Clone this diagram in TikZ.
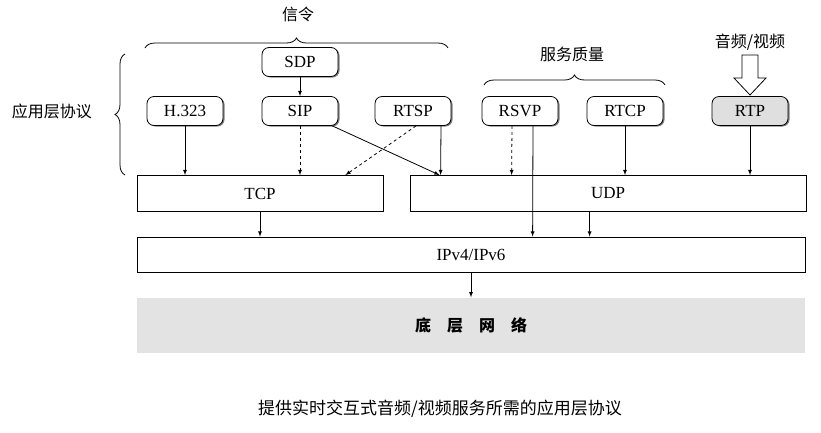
\documentclass[tikz,border=0pt]{standalone}
\usepackage{fontspec}
\setmainfont{Liberation Serif}
\newfontfamily\cjk{Noto Sans CJK SC}
\usetikzlibrary{calc,decorations.pathreplacing,shadows}
\tikzset{
  proto/.style={rectangle,rounded corners=7pt,draw,thick,minimum width=76pt,minimum height=29pt,font=\fontsize{17}{17}\selectfont,fill=white,drop shadow={shadow xshift=1.5pt,shadow yshift=-1pt,fill=black}},
  layer/.style={rectangle,draw,thick,minimum height=36pt,font=\fontsize{17}{17}\selectfont},
  conn/.style={-latex,thick},
  dconn/.style={-latex,thick,dashed},
  brc/.style={decorate,decoration={brace,amplitude=10pt},thick},
  lbl/.style={font=\cjk\fontsize{16}{16}\selectfont}
}
\begin{document}
\begin{tikzpicture}[x=1pt,y=-1pt]
\useasboundingbox (0,0) rectangle (821,432);
% protocols
\node[proto] (sdp) at (300,62) {SDP};
\node[proto] (h323) at (185,111) {H.323};
\node[proto] (sip) at (300,111) {SIP};
\node[proto] (rtsp) at (413,111) {RTSP};
\node[proto] (rsvp) at (520,111) {RSVP};
\node[proto] (rtcp) at (625,111) {RTCP};
\node[proto,fill=gray!25] (rtp) at (750,111) {RTP};
% layers
\node[layer,minimum width=246pt] (tcp) at (260,193.5) {TCP};
\node[layer,minimum width=396pt] (udp) at (608,193.5) {UDP};
\node[layer,minimum width=668pt,minimum height=35pt] (ip) at (471,254.5) {IPv4/IPv6};
\node[rectangle,fill=gray!22,minimum width=668pt,minimum height=55pt,font=\cjk\bfseries\fontsize{16}{16}\selectfont] (net) at (471,325) {底\quad 层\quad 网\quad 络};
% labels and braces
\node[lbl] (sig) at (298,14) {信令};
\draw[brc] (145,48) -- (448,48);
\node[lbl] (qos) at (572,54) {服务质量};
\draw[brc] (484,85) -- (665,85);
\node[lbl] (app) at (52,111) {应用层协议};
\draw[brc] (125,175) -- (125,54);
\node[lbl] (av) at (750,42) {音频/视频};
\draw[thick,fill=white] (742,55) -- (758,55) -- (758,78) -- (766,78) -- (750,95)
  -- (734,78) -- (742,78) -- cycle;
% connectors
\draw[conn] (sdp) -- (sip);
\draw[conn] (h323.south) -- (h323.south |- tcp.north);
\draw[dconn] (sip.south) -- (sip.south |- tcp.north);
\draw[dconn] ($(rtsp.south)+(3,0)$) -- ($(tcp.north east)+(-38,0)$);
\draw[conn] ($(sip.south east)+(-6,0)$) -- ($(udp.north west)+(30,0)$);
\draw[conn] ($(rtsp.south)+(28,0)$) -- ($(udp.north west)+(31,0)$);
\draw[dconn] ($(rsvp.south)+(-8,0)$) -- ($(udp.north west)+(102,0)$);
\draw[conn] ($(rsvp.south)+(13,0)$) -- ($(ip.north west)+(396,0)$);
\draw[conn] (rtcp.south) -- (rtcp.south |- udp.north);
\draw[conn] (rtp.south) -- (rtp.south |- udp.north);
\draw[conn] (tcp.south) -- (tcp.south |- ip.north);
\draw[conn] ($(udp.south west)+(180,0)$) -- ($(ip.north west)+(453,0)$);
\draw[conn] (ip.south) -- (net.north);
% caption
\node[lbl,font=\cjk\fontsize{17}{17}\selectfont] (cap) at (440,409) {提供实时交互式音频/视频服务所需的应用层协议};
\end{tikzpicture}
\end{document}
